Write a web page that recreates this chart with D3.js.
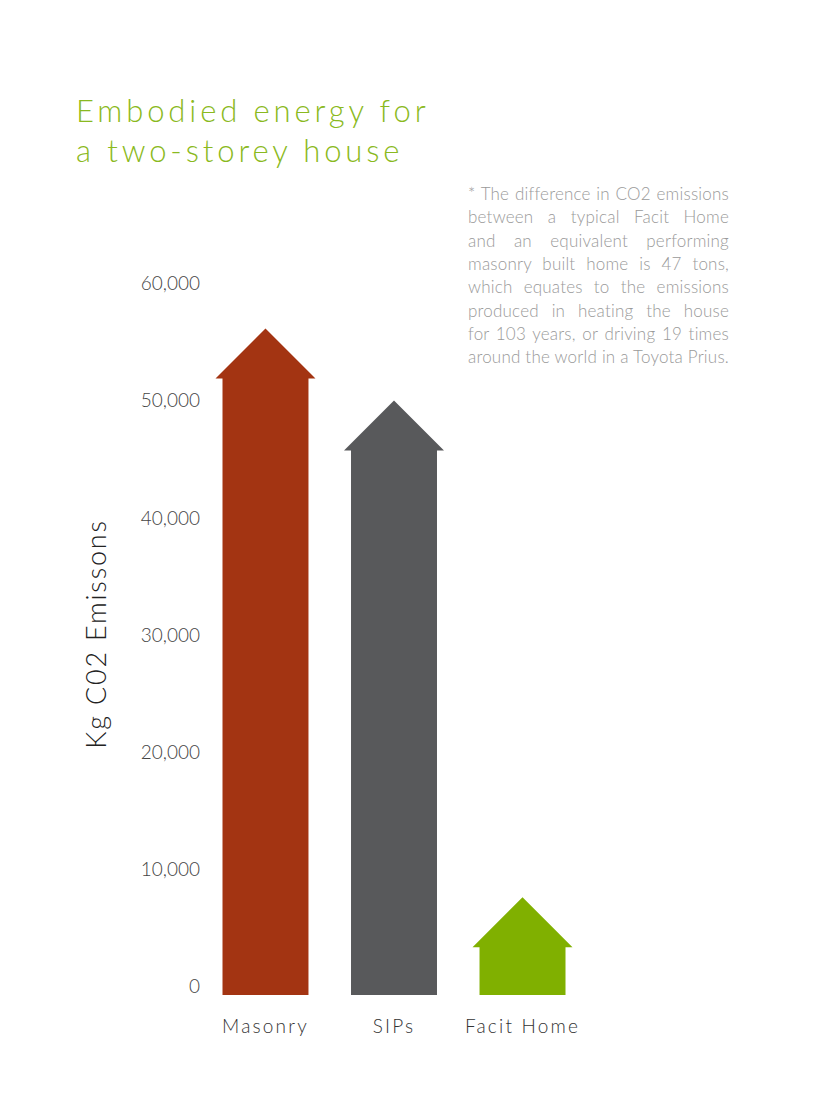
<!DOCTYPE html>
<html>
<head>
<meta charset="utf-8">
<script src="https://cdn.jsdelivr.net/npm/d3@7"></script>
<style>
  html, body { margin: 0; padding: 0; background: #fff; }
  svg text { font-family: "Lato", "Open Sans", sans-serif; }
</style>
</head>
<body>
<svg id="chart" width="840" height="1100"></svg>
<script>
// ---- data ----
const categories = ["Masonry", "SIPs", "Facit Home"];
const values = [56950, 50800, 8350];           // Kg CO2 (arrow tip)
const barColors = ["#a33412", "#58595b", "#80b000"];
const tickValues = [0, 10000, 20000, 30000, 40000, 50000, 60000];
const titleLines = ["Embodied energy for", "a two-storey house"];
const yAxisTitle = "Kg C02 Emissons";
const noteLines = [
  "* The difference in CO2 emissions",
  "between a typical Facit Home",
  "and an equivalent performing",
  "masonry built home is 47 tons,",
  "which equates to the emissions",
  "produced in heating the house",
  "for 103 years, or driving 19 times",
  "around the world in a Toyota Prius."
];

// ---- layout ----
const svg = d3.select("#chart");
const y = d3.scaleLinear().domain([0, 60000]).range([995, 292.7]);
const x = d3.scaleBand().domain(categories).range([222.5, 565.5]).paddingInner(0.331).paddingOuter(0);
const headH = 50, overhang = 7;

// title
svg.append("g").selectAll("text").data(titleLines).join("text")
  .attr("x", 76).attr("y", (d, i) => 121.5 + i * 40)
  .attr("fill", "#8ab920").attr("font-size", 31).attr("font-weight", 300)
  .attr("letter-spacing", 3.9)
  .text(d => d);

// note (justified)
const noteG = svg.append("g");
const noteLeft = 468, noteWidth = 261;
noteLines.forEach((line, i) => {
  const t = noteG.append("text")
    .attr("x", noteLeft).attr("y", 200 + i * 23.3)
    .attr("fill", "#9a9a9a").attr("font-size", 17).attr("font-weight", 300)
    .attr("letter-spacing", 0.2)
    .text(line);
  const w = t.node().getComputedTextLength();
  const spaces = (line.match(/ /g) || []).length;
  if (spaces > 0) t.attr("word-spacing", (noteWidth - w) / spaces);
});

// y tick labels
svg.append("g").selectAll("text").data(tickValues).join("text")
  .attr("x", 200).attr("y", d => y(d) - 2.3)
  .attr("text-anchor", "end")
  .attr("fill", "#444").attr("font-size", 19).attr("font-weight", 300)
  .text(d => d3.format(",")(d));

// y axis title
svg.append("text")
  .attr("transform", "translate(106,634) rotate(-90)")
  .attr("text-anchor", "middle")
  .attr("fill", "#222").attr("font-size", 27).attr("font-weight", 300)
  .attr("letter-spacing", 1.8)
  .text(yAxisTitle);

// arrows
const data = categories.map((c, i) => ({ c, v: values[i], color: barColors[i] }));
svg.append("g").selectAll("path").data(data).join("path")
  .attr("fill", d => d.color)
  .attr("d", d => {
    const x0 = x(d.c), x1 = x0 + x.bandwidth(), cx = x0 + x.bandwidth() / 2;
    const tip = y(d.v), sh = tip + headH, base = y(0);
    return `M${x0},${base}L${x0},${sh}L${x0 - overhang},${sh}L${cx},${tip}L${x1 + overhang},${sh}L${x1},${sh}L${x1},${base}Z`;
  });

// category labels
svg.append("g").selectAll("text").data(categories).join("text")
  .attr("x", d => x(d) + x.bandwidth() / 2).attr("y", 1033)
  .attr("text-anchor", "middle")
  .attr("fill", "#333").attr("font-size", 19).attr("font-weight", 300)
  .attr("letter-spacing", 2.2)
  .text(d => d);
</script>
</body>
</html>
